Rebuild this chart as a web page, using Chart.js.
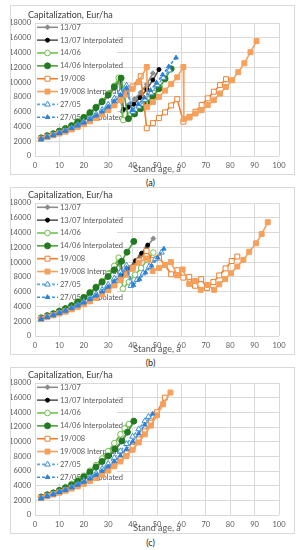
<!DOCTYPE html>
<html>
<head>
<meta charset="utf-8">
<script src="https://cdn.jsdelivr.net/npm/chart.js@4.4.0/dist/chart.umd.min.js"></script>
<style>
  body { margin: 0; background: #fff; width: 301px; height: 550px; position: relative; font-family: Lato, 'Liberation Sans', sans-serif; }
  .box { position: absolute; left: 10px; width: 283px; border: 1px solid #d9d9d9; background: #fff; }
  .box canvas { display: block; }
  .cap { position: absolute; left: 0; width: 301px; height: 12px; line-height: 12px; text-align: center; font-size: 9px; color: #222; }
</style>
</head>
<body>
<div class="box" style="top:5px;height:168px"><canvas id="chartA" width="283" height="168"></canvas></div>
<div class="cap" style="top:177px">(a)</div>
<div class="box" style="top:187px;height:166px"><canvas id="chartB" width="283" height="166"></canvas></div>
<div class="cap" style="top:357px">(b)</div>
<div class="box" style="top:367px;height:165px"><canvas id="chartC" width="283" height="165"></canvas></div>
<div class="cap" style="top:537px">(c)</div>
<script>
// series names, same in all three panels
const seriesLabels = ['13/07', '13/07 Interpolated', '14/06', '14/06 Interpolated', '19/008', '19/008 Interpolated', '27/05', '27/05 Interpolated'];

// ---- panel (a) ----
const a1307x = [2.5, 5, 7.5, 10, 12.5, 15, 17.5, 20, 22.5, 25, 27.5, 30, 32.5, 34.5, 35.8, 38.3, 40.8, 43.3, 45.8, 48.3];
const a1307y = [2400, 2700, 2950, 3300, 3650, 4050, 4500, 5050, 5700, 6400, 7200, 8100, 9150, 10100, 6000, 6900, 7700, 8600, 9700, 11200];
const a1307ix = [2.5, 5, 7.5, 10, 12.5, 15, 17.5, 20, 22.5, 25, 27.5, 30, 32.5, 35, 36.2, 38.2, 40.5, 43, 45.8, 48.3, 50.8];
const a1307iy = [2450, 2750, 3000, 3350, 3700, 4100, 4600, 5150, 5800, 6550, 7350, 8250, 9300, 10400, 6300, 6600, 7000, 7900, 9000, 10300, 11700];
const a1406x = [2.5, 5, 7.5, 10, 12.5, 15, 17.5, 20, 22.5, 25, 27.5, 30, 32.5, 34.3, 36.2, 38.7, 41.2, 43.7, 46.2, 48.7, 51.2];
const a1406y = [2450, 2750, 3050, 3400, 3750, 4150, 4650, 5250, 5900, 6650, 7450, 8400, 9500, 10600, 4850, 5500, 6200, 6900, 7700, 8500, 9300];
const a1406ix = [2.5, 5, 7.5, 10, 12.5, 15, 17.5, 20, 22.5, 25, 27.5, 30, 32.5, 35.3, 38.3, 40.8, 43.3, 45.8, 48.3, 50.8, 53.3, 55.8];
const a1406iy = [2450, 2750, 3000, 3350, 3700, 4100, 4600, 5200, 5850, 6550, 7350, 8250, 9350, 10550, 5050, 5700, 6400, 7200, 8100, 9100, 10450, 11800];
const a1908x = [2.5, 5, 7.5, 10, 12.5, 15, 17.5, 20, 22.5, 25, 27.5, 30, 32.5, 35, 37.5, 40, 43.3, 45.8, 48.3, 50.8, 53.3, 55.8, 58.3, 60.8, 63.3, 65.8, 68.3, 70.8, 73.3, 75.8, 78.3];
const a1908y = [2350, 2600, 2850, 3100, 3350, 3650, 4000, 4350, 4750, 5200, 5700, 6250, 6900, 7600, 8450, 9400, 10800, 3750, 4450, 5150, 5900, 6850, 7700, 4650, 5300, 6000, 6900, 7800, 8700, 9600, 10400];
const a1908ix = [2.5, 5, 7.5, 10, 12.5, 15, 17.5, 20, 22.5, 25, 27.5, 30, 32.5, 35, 37.5, 40, 42.5, 45.8, 46, 48.3, 50.8, 53.3, 55.8, 58.3, 60.8, 61, 63.3, 65.8, 68.3, 70.8, 73.3, 75.8, 78.3, 80.8, 83.3, 85.8, 88.3, 90.8];
const a1908iy = [2300, 2550, 2800, 3050, 3300, 3600, 3950, 4300, 4700, 5150, 5650, 6200, 6850, 7550, 8300, 9100, 10000, 12050, 6600, 7300, 8000, 8850, 9750, 10650, 12050, 5000, 5200, 5750, 6200, 6900, 7550, 8450, 9350, 10250, 11350, 12550, 14050, 15550];
const a2705x = [2.5, 5, 7.5, 10, 12.5, 15, 17.5, 20, 22.5, 25, 27.5, 30, 32.5, 35, 37.5, 40.1, 42.6, 45.1, 47.6, 50.1, 52.6, 55.1];
const a2705y = [2300, 2600, 2850, 3150, 3450, 3800, 4200, 4650, 5100, 5650, 6250, 6950, 7800, 8650, 9550, 6000, 6700, 7600, 8500, 9600, 10600, 11600];
const a2705ix = [2.5, 5, 7.5, 10, 12.5, 15, 17.5, 20, 22.5, 25, 27.5, 30, 32.5, 35, 37.5, 39.8, 42.3, 44.8, 47.3, 49.8, 52.3, 54.8, 57.8];
const a2705iy = [2250, 2550, 2800, 3100, 3400, 3750, 4100, 4500, 4950, 5450, 6000, 6650, 7400, 8250, 9200, 6200, 7000, 7900, 8900, 9900, 11000, 12100, 13300];

// ---- panel (b) ----
const b1307x = [2.5, 5, 7.5, 10, 12.5, 15, 17.5, 20, 22.5, 25, 27.5, 30, 32.5, 34.5, 35.8, 38.3, 40.8, 43.3, 45.8, 48.5];
const b1307y = [2400, 2700, 2950, 3300, 3650, 4050, 4500, 5050, 5700, 6400, 7200, 8100, 9150, 10500, 8000, 8900, 9900, 10900, 12000, 13200];
const b1307ix = [2.5, 5, 7.5, 10, 12.5, 15, 17.5, 20, 22.5, 25, 27.5, 30, 32.5, 35, 36.2, 38.7, 41.2, 43.7, 46.2];
const b1307iy = [2450, 2750, 3000, 3350, 3700, 4100, 4600, 5150, 5800, 6550, 7350, 8250, 9000, 10100, 8300, 9200, 10200, 11200, 12300];
const b1406x = [2.5, 5, 7.5, 10, 12.5, 15, 17.5, 20, 22.5, 25, 27.5, 30, 32.5, 34.3, 36, 38.5, 41, 43.5, 46, 48.5];
const b1406y = [2450, 2750, 3050, 3400, 3750, 4150, 4650, 5250, 5900, 6650, 7450, 8400, 9500, 10600, 6400, 7300, 8300, 9200, 10300, 11300];
const b1406ix = [2.5, 5, 7.5, 10, 12.5, 15, 17.5, 20, 22.5, 25, 27.5, 30, 32.5, 35.5, 37.7, 40.5];
const b1406iy = [2450, 2750, 3000, 3350, 3700, 4100, 4600, 5200, 5850, 6550, 7300, 8050, 8950, 10100, 11350, 12800];
const b1908x = [2.5, 5, 7.5, 10, 12.5, 15, 17.5, 20, 22.5, 25, 27.5, 30, 32.5, 35, 37.5, 40, 42.5, 45.7, 48.3, 50.8, 53.3, 55.8, 58.3, 60.8, 63.2, 65.6, 68.1, 70.5, 73.1, 75.5, 78.1, 80.6, 82.9];
const b1908y = [2350, 2600, 2850, 3100, 3350, 3650, 4000, 4350, 4750, 5200, 5700, 6250, 6900, 7600, 8400, 9250, 10200, 11500, 10300, 10600, 9600, 8350, 8900, 7900, 8000, 6800, 7700, 6500, 7300, 8200, 9150, 10150, 10750];
const b1908ix = [2.5, 5, 7.5, 10, 12.5, 15, 17.5, 20, 22.5, 25, 27.5, 30, 32.5, 35, 37.5, 40, 42.5, 45.5, 48.2, 50.8, 53.3, 55.7, 58.3, 60.5, 63.2, 65.6, 67.9, 70.8, 73.4, 75.5, 77.9, 80.3, 82.9, 85.4, 87.8, 90.6, 92.9, 95.4];
const b1908iy = [2300, 2550, 2800, 3050, 3300, 3600, 3950, 4300, 4700, 5150, 5650, 6200, 6850, 7550, 8300, 9100, 9900, 10500, 8800, 9200, 9600, 10000, 8200, 9000, 7050, 7450, 6250, 6900, 6250, 7000, 7700, 8500, 9400, 10300, 11400, 12550, 13800, 15400];
const b2705x = [2.5, 5, 7.5, 10, 12.5, 15, 17.5, 20, 22.5, 25, 27.5, 30, 32.5, 35, 37.5, 39.3, 41.8, 44.3, 46.8, 49.3, 51.8];
const b2705y = [2300, 2600, 2850, 3150, 3450, 3800, 4200, 4650, 5100, 5650, 6250, 6950, 7800, 8650, 9550, 6800, 7600, 8500, 9400, 10400, 11300];
const b2705ix = [2.5, 5, 7.5, 10, 12.5, 15, 17.5, 20, 22.5, 25, 27.5, 30, 32.5, 35, 37.5, 40.3, 42.8, 45.3, 47.8, 50.3, 52.8];
const b2705iy = [2250, 2550, 2800, 3100, 3400, 3750, 4100, 4500, 4950, 5450, 6000, 6650, 7400, 8250, 9200, 6900, 7700, 8600, 9500, 10600, 11800];

// ---- panel (c) ----
const c1307x = [2.5, 5, 7.5, 10, 12.5, 15, 17.5, 20, 22.5, 25, 27.5, 30, 32.5, 35, 37.3];
const c1307y = [2400, 2700, 3000, 3350, 3750, 4150, 4650, 5250, 5950, 6700, 7600, 8600, 9700, 10900, 12000];
const c1307ix = [2.5, 5, 7.5, 10, 12.5, 15, 17.5, 20, 22.5, 25, 27.5, 30.5, 33, 35.5, 38, 40.5];
const c1307iy = [2450, 2750, 3000, 3350, 3700, 4100, 4600, 5150, 5800, 6500, 7250, 8050, 8950, 10000, 11300, 12800];
const c1406x = [2.5, 5, 7.5, 10, 12.5, 15, 17.5, 20, 22.5, 25, 27.5, 30, 32.5, 35, 36.7, 38.5];
const c1406y = [2450, 2750, 3050, 3400, 3800, 4250, 4750, 5350, 6050, 6800, 7700, 8700, 9800, 11000, 11800, 12400];
const c1406ix = [2.5, 5, 7.5, 10, 12.5, 15, 17.5, 20, 22.5, 25, 27.5, 30, 32.8, 35.6, 37.9, 40.5];
const c1406iy = [2450, 2750, 3000, 3350, 3700, 4100, 4600, 5200, 5850, 6550, 7300, 8050, 9000, 10100, 11300, 12800];
const c1908x = [2.5, 5, 7.5, 10, 12.5, 15, 17.5, 20, 22.5, 25, 27.5, 30, 32.5, 35, 37.5, 40, 42.5, 45, 47.5, 50, 53.2];
const c1908y = [2350, 2600, 2850, 3100, 3400, 3700, 4000, 4350, 4750, 5200, 5700, 6250, 6900, 7600, 8400, 9300, 10300, 11400, 12600, 14000, 16000];
const c1908ix = [2.5, 5, 7.5, 10, 12.5, 15, 17.5, 20, 22.5, 25, 27.5, 30, 32.5, 35, 37.5, 40, 42.5, 45, 47.5, 50, 52.5, 55.5];
const c1908iy = [2300, 2550, 2800, 3050, 3300, 3600, 3900, 4250, 4650, 5050, 5500, 6050, 6650, 7300, 8050, 8900, 9900, 11000, 12200, 13600, 15100, 16700];
const c2705x = [2.5, 5, 7.5, 10, 12.5, 15, 17.5, 20, 22.5, 25, 27.5, 30, 32.5, 35, 37.5, 40, 42.5, 45, 46.5];
const c2705y = [2300, 2600, 2850, 3150, 3450, 3800, 4200, 4650, 5150, 5700, 6300, 7000, 7800, 8700, 9700, 10700, 11700, 12800, 13400];
const c2705ix = [2.5, 5, 7.5, 10, 12.5, 15, 17.5, 20, 22.5, 25, 27.5, 30, 32.5, 35, 37.5, 40, 42.5, 45, 48.2];
const c2705iy = [2250, 2550, 2800, 3100, 3400, 3750, 4100, 4500, 4950, 5450, 6000, 6600, 7300, 8100, 9000, 10000, 11100, 12300, 13800];

// look of each series (same order as seriesLabels)
const looks = [
  { line: '#8c8c8c', fill: '#8c8c8c', edge: '#8c8c8c', shape: 'rectRot', r: 2.5 },
  { line: '#595959', fill: '#000000', edge: '#000000', shape: 'circle', r: 2 },
  { line: '#72c04c', fill: '#ffffff', edge: '#72c04c', shape: 'circle', r: 2.8 },
  { line: '#4aa63a', fill: '#237a23', edge: '#237a23', shape: 'circle', r: 3 },
  { line: '#f07f2e', fill: '#ffffff', edge: '#f07f2e', shape: 'rect', r: 3.5 },
  { line: '#f5a261', fill: '#f7a05c', edge: '#f7a05c', shape: 'rect', r: 3.5 },
  { line: '#5aaae6', fill: '#ffffff', edge: '#3d8fdd', shape: 'triangle', r: 3.3, dash: [3, 2] },
  { line: '#3d8fdd', fill: '#2f80d3', edge: '#2f80d3', shape: 'triangle', r: 2.6, dash: [3, 2] }
];

const gridColor = '#d9d9d9';
const textColor = '#595959';
const fontName = 'Lato';

function pairs(xs, ys) {
  return xs.map((x, i) => ({ x: x, y: ys[i] }));
}

// legend drawn inside the plot, under the lines, on a white patch
const insideLegend = {
  id: 'insideLegend',
  beforeDatasetsDraw(chart) {
    const ctx = chart.ctx;
    const area = chart.chartArea;
    ctx.save();
    ctx.fillStyle = '#ffffff';
    ctx.fillRect(area.left + 1, area.top + 1, 81, 99);
    chart.data.datasets.forEach((ds, i) => {
      const y = area.top + 4.3 + i * 12.85;
      ctx.strokeStyle = ds.borderColor;
      ctx.lineWidth = ds.borderWidth;
      ctx.setLineDash(ds.borderDash || []);
      ctx.beginPath();
      ctx.moveTo(area.left + 2, y);
      ctx.lineTo(area.left + 23, y);
      ctx.stroke();
      ctx.setLineDash([]);
      ctx.fillStyle = ds.pointBackgroundColor;
      ctx.strokeStyle = ds.pointBorderColor;
      ctx.lineWidth = ds.pointBorderWidth;
      Chart.helpers.drawPoint(ctx, { pointStyle: ds.pointStyle, radius: ds.pointRadius, borderWidth: ds.pointBorderWidth, rotation: 0 }, area.left + 12.5, y);
      ctx.fillStyle = textColor;
      ctx.font = '7.5px ' + fontName;
      ctx.textBaseline = 'middle';
      ctx.textAlign = 'left';
      ctx.fillText(ds.label, area.left + 25, y);
    });
    ctx.restore();
  }
};

// y axis caption sits above the plot, left aligned
const cornerTitle = {
  id: 'cornerTitle',
  afterDraw(chart) {
    const ctx = chart.ctx;
    const area = chart.chartArea;
    ctx.save();
    ctx.fillStyle = '#404040';
    ctx.font = '9px ' + fontName;
    ctx.textBaseline = 'middle';
    ctx.textAlign = 'left';
    ctx.fillText('Capitalization, Eur/ha', area.left - 7, area.top - 7.5);
    ctx.restore();
  }
};

function buildPanel(id, padTop, seriesX, seriesY) {
  const datasets = seriesLabels.map((label, i) => {
    const look = looks[i];
    return {
      label: label,
      data: pairs(seriesX[i], seriesY[i]),
      borderColor: look.line,
      borderWidth: 1.6,
      borderDash: look.dash || [],
      pointStyle: look.shape,
      pointRadius: look.r,
      pointBackgroundColor: look.fill,
      pointBorderColor: look.edge,
      pointBorderWidth: 1,
      tension: 0,
      order: seriesLabels.length - i
    };
  });

  const ctx = document.getElementById(id).getContext('2d');
  return new Chart(ctx, {
    type: 'line',
    data: { datasets: datasets },
    options: {
      responsive: false,
      animation: false,
      layout: { padding: { left: 0, right: 15, top: padTop, bottom: 0 } },
      plugins: {
        legend: { display: false },
        tooltip: { enabled: false }
      },
      scales: {
        x: {
          type: 'linear',
          min: 0,
          max: 100,
          ticks: { stepSize: 10, color: textColor, font: { family: fontName, size: 7.5 }, padding: 5, maxRotation: 0 },
          grid: { color: gridColor, drawTicks: false },
          border: { display: false },
          title: { display: true, text: 'Stand age, a', color: textColor, font: { family: fontName, size: 9 }, padding: { top: 0, bottom: 0 } },
          afterFit: function (scale) { scale.height = 18; }
        },
        y: {
          min: 0,
          max: 18000,
          ticks: { stepSize: 2000, color: textColor, font: { family: fontName, size: 7.5 }, padding: 4, callback: (v) => String(v) },
          grid: { color: gridColor, drawTicks: false },
          border: { display: false },
          afterFit: function (scale) { scale.width = 24; }
        }
      }
    },
    plugins: [insideLegend, cornerTitle]
  });
}

buildPanel('chartA', 17,
  [a1307x, a1307ix, a1406x, a1406ix, a1908x, a1908ix, a2705x, a2705ix],
  [a1307y, a1307iy, a1406y, a1406iy, a1908y, a1908iy, a2705y, a2705iy]);
buildPanel('chartB', 15,
  [b1307x, b1307ix, b1406x, b1406ix, b1908x, b1908ix, b2705x, b2705ix],
  [b1307y, b1307iy, b1406y, b1406iy, b1908y, b1908iy, b2705y, b2705iy]);
buildPanel('chartC', 15,
  [c1307x, c1307ix, c1406x, c1406ix, c1908x, c1908ix, c2705x, c2705ix],
  [c1307y, c1307iy, c1406y, c1406iy, c1908y, c1908iy, c2705y, c2705iy]);
</script>
</body>
</html>
